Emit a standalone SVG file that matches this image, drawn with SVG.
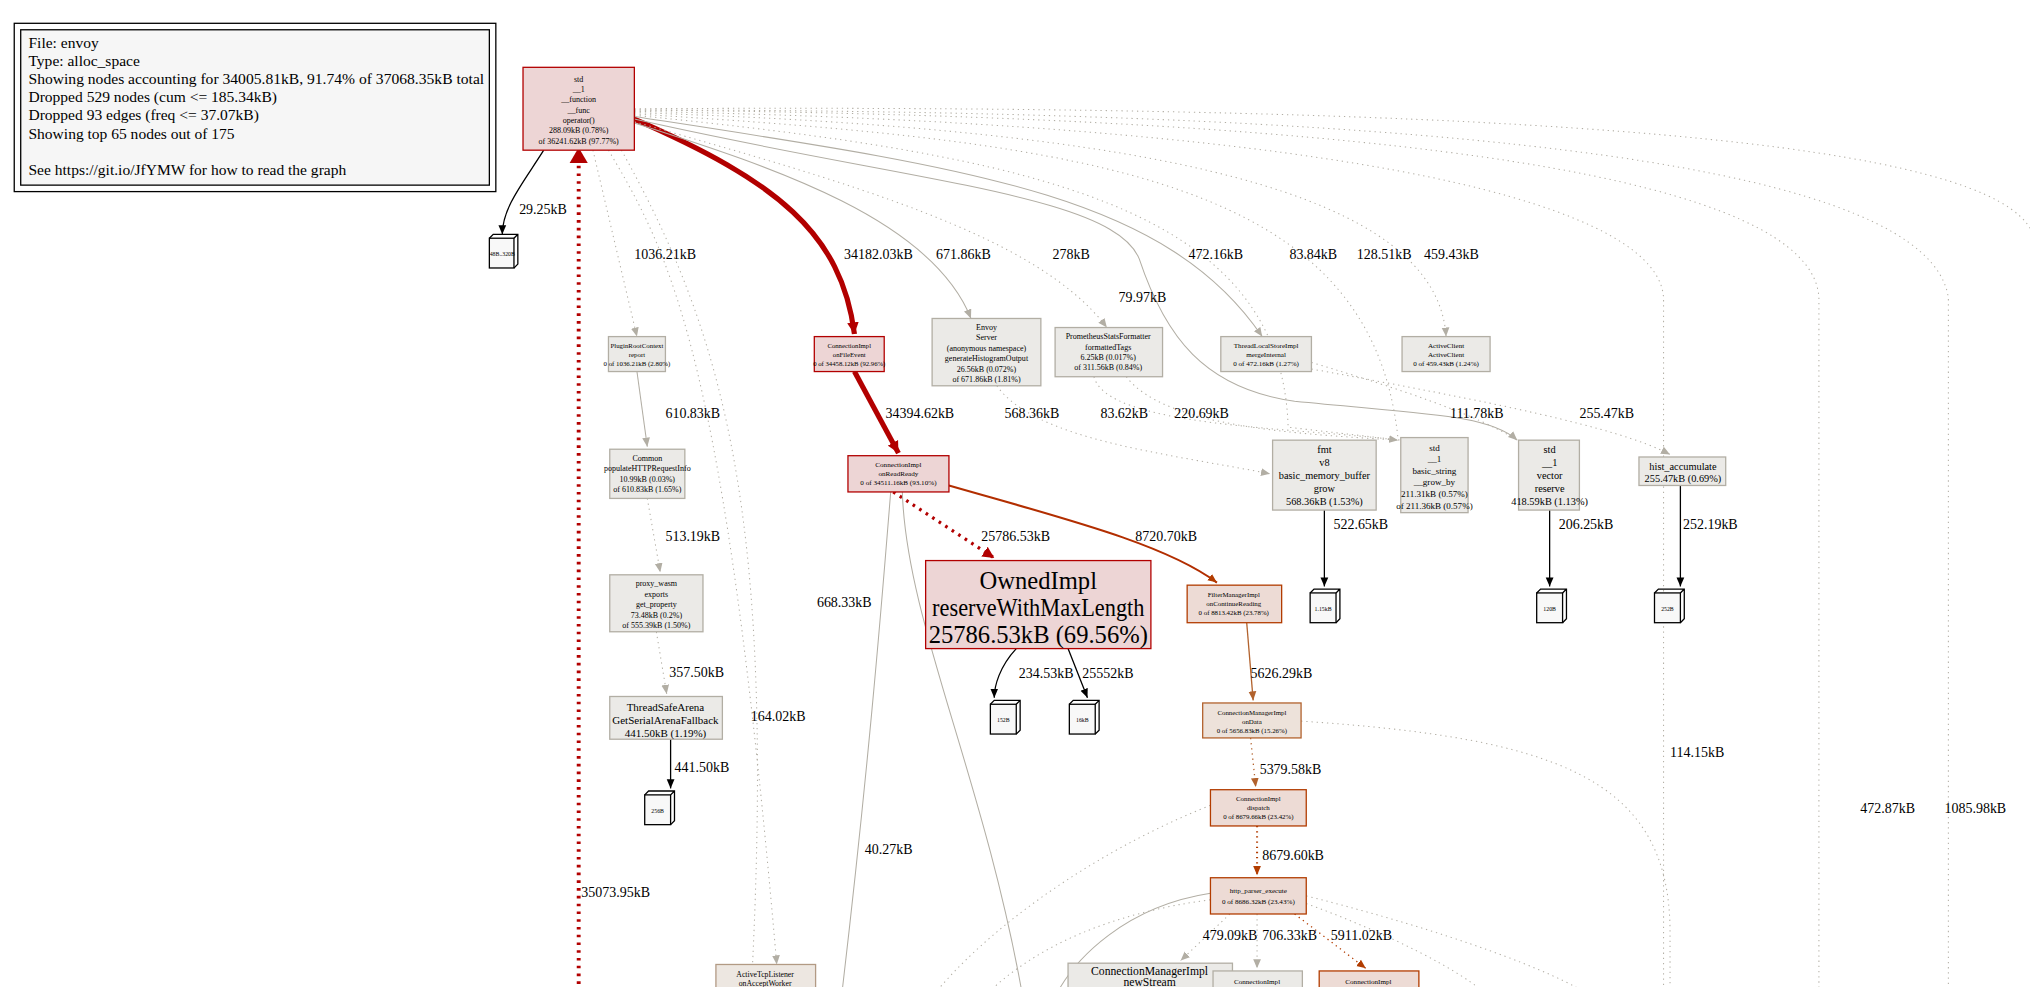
<svg xmlns="http://www.w3.org/2000/svg" width="2030" height="987" viewBox="0 0 2030 987">
<defs>
<style>
text{font-family:"Liberation Serif","Times New Roman",serif;text-anchor:middle;fill:#000}
.lg{text-anchor:start;font-size:12px}
.el{font-size:10.8px;text-anchor:start}
.n text{font-size:6.2px}
.red rect{fill:#edd5d5;stroke:#b20000;stroke-width:1}
.org rect{fill:#eddbd5;stroke:#b23c00;stroke-width:1}
.org2 rect{fill:#ede2da;stroke:#b2622d;stroke-width:1}
.gry rect{fill:#ebeae7;stroke:#b2aea4;stroke-width:1}
.gry2 rect{fill:#ede7e1;stroke:#b29a84;stroke-width:1}
.box rect{fill:#f8f8f8;stroke:#000;stroke-width:1}
.box path{fill:none;stroke:#000;stroke-width:1}
.e{fill:none}
.g{stroke:#b2aea4;stroke-width:0.8}
.gd{stroke:#b2aea4;stroke-width:0.8;stroke-dasharray:1,3}
.k{stroke:#000;stroke-width:1}
</style>
<marker id="ak" markerWidth="8" markerHeight="8" refX="7" refY="4" orient="auto" markerUnits="userSpaceOnUse"><path d="M0,1 L7,4 L0,7z" fill="#000"/></marker>
<marker id="ag" markerWidth="8" markerHeight="8" refX="7" refY="4" orient="auto" markerUnits="userSpaceOnUse"><path d="M0,1 L7,4 L0,7z" fill="#b2aea4"/></marker>
<marker id="ar" markerWidth="10" markerHeight="10" refX="9" refY="5" orient="auto" markerUnits="userSpaceOnUse"><path d="M0,0.5 L9,5 L0,9.5z" fill="#b20000"/></marker>
<marker id="ao" markerWidth="8" markerHeight="8" refX="7" refY="4" orient="auto" markerUnits="userSpaceOnUse"><path d="M0,1 L7,4 L0,7z" fill="#b23c00"/></marker>
<marker id="ao2" markerWidth="8" markerHeight="8" refX="7" refY="4" orient="auto" markerUnits="userSpaceOnUse"><path d="M0,1 L7,4 L0,7z" fill="#b2622d"/></marker>
</defs>
<rect width="2030" height="987" fill="#fff"/>
<g transform="scale(1.2946)">
<g id="legend">
<rect x="11" y="18" width="372" height="130" fill="#fff" stroke="#000"/>
<rect x="16" y="23" width="362" height="120" fill="#f6f6f6" stroke="#000"/>
<text class="lg" x="22" y="37">File: envoy</text>
<text class="lg" x="22" y="51">Type: alloc_space</text>
<text class="lg" x="22" y="65" textLength="352" lengthAdjust="spacingAndGlyphs">Showing nodes accounting for 34005.81kB, 91.74% of 37068.35kB total</text>
<text class="lg" x="22" y="79">Dropped 529 nodes (cum &lt;= 185.34kB)</text>
<text class="lg" x="22" y="93">Dropped 93 edges (freq &lt;= 37.07kB)</text>
<text class="lg" x="22" y="107">Showing top 65 nodes out of 175</text>
<text class="lg" x="22" y="135">See https://git.io/JfYMW for how to read the graph</text>
</g>
<g id="edges" class="e">
<path class="k" d="M420,116 C405,140 388,160 388,181" marker-end="url(#ak)"/>
<path d="M447,760 L447,124" stroke="#b20000" stroke-width="3" stroke-dasharray="2,4"/>
<path d="M440,126 L447,114 L454,126z" fill="#b20000"/>
<path class="gd" d="M458,116 L492,260" marker-end="url(#ag)"/>
<path class="gd" d="M470,116 C520,200 560,280 600,745" marker-end="url(#ag)"/>
<path class="gd" d="M480,116 C560,260 600,400 580,770"/>
<path d="M490,92 C600,140 650,180 660,258" stroke="#b20000" stroke-width="4" marker-end="url(#ar)"/>
<path class="g" d="M490,95 C600,130 720,170 750,246" marker-end="url(#ag)"/>
<path class="gd" d="M490,94 C650,140 800,180 855,253" marker-end="url(#ag)"/>
<path class="g" d="M490,92 C700,140 860,150 880,200 C900,260 930,300 1000,310 C1100,320 1150,320 1172,340" marker-end="url(#ag)"/>
<path class="g" d="M490,90 C750,130 900,150 975,260" marker-end="url(#ag)"/>
<path class="gd" d="M490,89 C800,120 990,160 995,330 L1082,340" />
<path class="gd" d="M490,88 C850,110 1060,140 1080,340" />
<path class="gd" d="M490,87 C900,100 1110,150 1117,260" marker-end="url(#ag)"/>
<path class="gd" d="M490,86 C1000,95 1280,150 1285,230 L1285,770"/>
<path class="gd" d="M490,85 C1100,90 1400,140 1405,230 L1405,770"/>
<path class="gd" d="M490,85 C1150,85 1490,130 1505,230 L1505,770"/>
<path class="gd" d="M490,84 C1200,80 1540,110 1570,180"/>
<path class="g" d="M492,287 L500,345" marker-end="url(#ag)"/>
<path class="gd" d="M500,385 L510,442" marker-end="url(#ag)"/>
<path class="gd" d="M507,488 L515,536" marker-end="url(#ag)"/>
<path class="k" d="M518,571 L518,609" marker-end="url(#ak)"/>
<path d="M660,287 L694,350" stroke="#b20000" stroke-width="4" marker-end="url(#ar)"/>
<path d="M690,380 L768,431" stroke="#b20000" stroke-width="2.5" stroke-dasharray="2,4" marker-end="url(#ar)"/>
<path d="M733,375 C820,400 900,420 940,450" stroke="#b22e00" stroke-width="1.6" marker-end="url(#ao)"/>
<path class="g" d="M688,380 C680,480 670,600 650,770"/>
<path class="g" d="M697,380 C700,480 760,600 790,770"/>
<path class="k" d="M785,501 C772,515 768,530 768,539" marker-end="url(#ak)"/>
<path class="k" d="M825,501 L840,539" marker-end="url(#ak)"/>
<path d="M963,481 L968,541" stroke="#b2622d" stroke-width="1" marker-end="url(#ao2)"/>
<path d="M966,570 L970,608" stroke="#b2622d" stroke-width="1" stroke-dasharray="1,3" marker-end="url(#ao2)"/>
<path d="M971,638 L971,676" stroke="#b23c00" stroke-width="1.6" stroke-dasharray="1,3" marker-end="url(#ao)"/>
<path class="gd" d="M1005,557 C1200,570 1290,600 1290,720 L1290,770"/>
<path class="gd" d="M935,622 C840,660 760,720 720,770"/>
<path class="g" d="M935,690 C870,700 830,740 815,770"/>
<path class="gd" d="M935,695 C860,705 800,730 760,770"/>
<path class="gd" d="M950,706 L912,742" marker-end="url(#ag)"/>
<path class="gd" d="M971,706 L971,748" marker-end="url(#ag)"/>
<path d="M1000,706 L1055,748" stroke="#b23c00" stroke-width="1" stroke-dasharray="1,3" marker-end="url(#ao)"/>
<path class="gd" d="M1009,698 C1070,720 1130,750 1150,770"/>
<path class="gd" d="M1009,692 C1120,720 1200,750 1230,770"/>
<path class="gd" d="M770,298 C800,340 900,350 981,366" marker-end="url(#ag)"/>
<path class="gd" d="M845,291 C855,330 1000,330 1080,340" marker-end="url(#ag)"/>
<path class="gd" d="M870,291 C900,330 1000,335 1080,340"/>
<path class="gd" d="M1013,280 C1080,300 1140,320 1172,340"/>
<path class="gd" d="M1013,285 C1150,310 1250,330 1290,351" marker-end="url(#ag)"/>
<path class="k" d="M1023,394 L1023,453" marker-end="url(#ak)"/>
<path class="k" d="M1197,394 L1197,453" marker-end="url(#ak)"/>
<path class="k" d="M1298,375 L1298,453" marker-end="url(#ak)"/>
</g>
<g id="edge-labels">
<text class="el" x="401" y="165">29.25kB</text>
<text class="el" x="490" y="200">1036.21kB</text>
<text class="el" x="652" y="200">34182.03kB</text>
<text class="el" x="723" y="200">671.86kB</text>
<text class="el" x="813" y="200">278kB</text>
<text class="el" x="918" y="200">472.16kB</text>
<text class="el" x="996" y="200">83.84kB</text>
<text class="el" x="1048" y="200">128.51kB</text>
<text class="el" x="1100" y="200">459.43kB</text>
<text class="el" x="864" y="233">79.97kB</text>
<text class="el" x="514" y="323">610.83kB</text>
<text class="el" x="684" y="323">34394.62kB</text>
<text class="el" x="776" y="323">568.36kB</text>
<text class="el" x="850" y="323">83.62kB</text>
<text class="el" x="907" y="323">220.69kB</text>
<text class="el" x="1120" y="323">111.78kB</text>
<text class="el" x="1220" y="323">255.47kB</text>
<text class="el" x="514" y="418">513.19kB</text>
<text class="el" x="758" y="418">25786.53kB</text>
<text class="el" x="877" y="418">8720.70kB</text>
<text class="el" x="1030" y="409">522.65kB</text>
<text class="el" x="1204" y="409">206.25kB</text>
<text class="el" x="1300" y="409">252.19kB</text>
<text class="el" x="631" y="469">668.33kB</text>
<text class="el" x="517" y="523">357.50kB</text>
<text class="el" x="787" y="524">234.53kB</text>
<text class="el" x="836" y="524">25552kB</text>
<text class="el" x="966" y="524">5626.29kB</text>
<text class="el" x="580" y="557">164.02kB</text>
<text class="el" x="1290" y="585">114.15kB</text>
<text class="el" x="521" y="596">441.50kB</text>
<text class="el" x="973" y="598">5379.58kB</text>
<text class="el" x="1437" y="628">472.87kB</text>
<text class="el" x="1502" y="628">1085.98kB</text>
<text class="el" x="668" y="660">40.27kB</text>
<text class="el" x="975" y="664">8679.60kB</text>
<text class="el" x="449" y="693">35073.95kB</text>
<text class="el" x="929" y="726">479.09kB</text>
<text class="el" x="975" y="726">706.33kB</text>
<text class="el" x="1028" y="726">5911.02kB</text>
</g>
<g id="n-root" class="n red"><rect x="404" y="52" width="86" height="64"/>
<text x="447" y="63">std</text><text x="447" y="71">__1</text><text x="447" y="79">__function</text><text x="447" y="87">__func</text><text x="447" y="95">operator()</text><text x="447" y="103">288.09kB (0.78%)</text><text x="447" y="111">of 36241.62kB (97.77%)</text></g>
<g id="n-48b" class="n box"><rect x="378" y="184" width="19" height="23"/><path d="M378,184 L381,181 L400,181 L400,204 L397,207 M397,184 L400,181"/><text x="388" y="198" style="font-size:4.5px">48B..320B</text></g>
<g id="n-plugin" class="n gry"><rect x="470" y="260" width="44" height="27"/>
<text x="492" y="269" style="font-size:5.3px">PluginRootContext</text><text x="492" y="276" style="font-size:5.3px">report</text><text x="492" y="283" style="font-size:5.3px">0 of 1036.21kB (2.80%)</text></g>
<g id="n-common" class="n gry"><rect x="471" y="347" width="58" height="38"/>
<text x="500" y="356">Common</text><text x="500" y="364">populateHTTPRequestInfo</text><text x="500" y="372">10.99kB (0.03%)</text><text x="500" y="380">of 610.83kB (1.65%)</text></g>
<g id="n-proxy" class="n gry"><rect x="471" y="444" width="72" height="44"/>
<text x="507" y="453">proxy_wasm</text><text x="507" y="461">exports</text><text x="507" y="469">get_property</text><text x="507" y="477">73.48kB (0.2%)</text><text x="507" y="485">of 555.39kB (1.50%)</text></g>
<g id="n-arena" class="n gry"><rect x="471" y="538" width="87" height="33"/>
<text x="514" y="549" style="font-size:8.5px">ThreadSafeArena</text><text x="514" y="559" style="font-size:8.5px">GetSerialArenaFallback</text><text x="514" y="569" style="font-size:8.5px">441.50kB (1.19%)</text></g>
<g id="n-256b" class="n box"><rect x="498" y="614" width="20" height="23"/><path d="M498,614 L501,611 L521,611 L521,634 L518,637 M518,614 L521,611"/><text x="508" y="628" style="font-size:4.5px">256B</text></g>
<g id="n-onfile" class="n red"><rect x="629" y="260" width="54" height="27"/>
<text x="656" y="269" style="font-size:5.2px">ConnectionImpl</text><text x="656" y="276" style="font-size:5.2px">onFileEvent</text><text x="656" y="283" style="font-size:5.2px">0 of 34458.12kB (92.96%)</text></g>
<g id="n-onread" class="n red"><rect x="655" y="352" width="78" height="28"/>
<text x="694" y="361" style="font-size:5.5px">ConnectionImpl</text><text x="694" y="368" style="font-size:5.5px">onReadReady</text><text x="694" y="375" style="font-size:5.5px">0 of 34511.16kB (93.10%)</text></g>
<g id="n-owned" class="n red"><rect x="715" y="433" width="174" height="68"/>
<text x="802" y="455" style="font-size:19px">OwnedImpl</text><text x="802" y="476" style="font-size:19px" textLength="164" lengthAdjust="spacingAndGlyphs">reserveWithMaxLength</text><text x="802" y="497" style="font-size:19px">25786.53kB (69.56%)</text></g>
<g id="n-152b" class="n box"><rect x="765" y="544" width="20" height="23"/><path d="M765,544 L768,541 L788,541 L788,564 L785,567 M785,544 L788,541"/><text x="775" y="558" style="font-size:4.5px">152B</text></g>
<g id="n-16kb" class="n box"><rect x="826" y="544" width="20" height="23"/><path d="M826,544 L829,541 L849,541 L849,564 L846,567 M846,544 L849,541"/><text x="836" y="558" style="font-size:4.5px">16kB</text></g>
<g id="n-filter" class="n org"><rect x="917" y="452" width="73" height="29"/>
<text x="953" y="461" style="font-size:5.3px">FilterManagerImpl</text><text x="953" y="468" style="font-size:5.3px">onContinueReading</text><text x="953" y="475" style="font-size:5.3px">0 of 8813.42kB (23.78%)</text></g>
<g id="n-ondata" class="n org2"><rect x="929" y="543" width="76" height="27"/>
<text x="967" y="552" style="font-size:5.3px">ConnectionManagerImpl</text><text x="967" y="559" style="font-size:5.3px">onData</text><text x="967" y="566" style="font-size:5.3px">0 of 5656.83kB (15.26%)</text></g>
<g id="n-dispatch" class="n org"><rect x="935" y="610" width="74" height="28"/>
<text x="972" y="619" style="font-size:5.3px">ConnectionImpl</text><text x="972" y="626" style="font-size:5.3px">dispatch</text><text x="972" y="633" style="font-size:5.3px">0 of 8679.66kB (23.42%)</text></g>
<g id="n-http" class="n org"><rect x="935" y="678" width="74" height="28"/>
<text x="972" y="690" style="font-size:5.5px">http_parser_execute</text><text x="972" y="698" style="font-size:5.5px">0 of 8686.32kB (23.43%)</text></g>
<g id="n-newstream" class="n gry"><rect x="825" y="744" width="127" height="30"/>
<text x="888" y="753" style="font-size:9px">ConnectionManagerImpl</text><text x="888" y="761.5" style="font-size:9px">newStream</text></g>
<g id="n-conn-g" class="n gry"><rect x="937" y="750" width="69" height="24"/><text x="971" y="760" style="font-size:5.5px">ConnectionImpl</text></g>
<g id="n-conn-o" class="n org"><rect x="1019" y="750" width="77" height="24"/><text x="1057" y="760" style="font-size:5.5px">ConnectionImpl</text></g>
<g id="n-tcp" class="n gry2"><rect x="553" y="745" width="77" height="29"/><text x="591" y="755" style="font-size:6px">ActiveTcpListener</text><text x="591" y="762" style="font-size:6px">onAcceptWorker</text></g>
<g id="n-envoy" class="n gry"><rect x="720" y="246" width="84" height="52"/>
<text x="762" y="255">Envoy</text><text x="762" y="263">Server</text><text x="762" y="271">(anonymous namespace)</text><text x="762" y="279">generateHistogramOutput</text><text x="762" y="287">26.56kB (0.072%)</text><text x="762" y="295">of 671.86kB (1.81%)</text></g>
<g id="n-prom" class="n gry"><rect x="815" y="253" width="83" height="38"/>
<text x="856" y="262">PrometheusStatsFormatter</text><text x="856" y="270">formattedTags</text><text x="856" y="278">6.25kB (0.017%)</text><text x="856" y="286">of 311.56kB (0.84%)</text></g>
<g id="n-tls" class="n gry"><rect x="943" y="260" width="70" height="27"/>
<text x="978" y="269" style="font-size:5.5px">ThreadLocalStoreImpl</text><text x="978" y="276" style="font-size:5.5px">mergeInternal</text><text x="978" y="283" style="font-size:5.5px">0 of 472.16kB (1.27%)</text></g>
<g id="n-activeclient" class="n gry"><rect x="1083" y="260" width="68" height="27"/>
<text x="1117" y="269" style="font-size:5.5px">ActiveClient</text><text x="1117" y="276" style="font-size:5.5px">ActiveClient</text><text x="1117" y="283" style="font-size:5.5px">0 of 459.43kB (1.24%)</text></g>
<g id="n-fmt" class="n gry"><rect x="983" y="340" width="80" height="54"/>
<text x="1023" y="350" style="font-size:8px">fmt</text><text x="1023" y="360" style="font-size:8px">v8</text><text x="1023" y="370" style="font-size:8px">basic_memory_buffer</text><text x="1023" y="380" style="font-size:8px">grow</text><text x="1023" y="390" style="font-size:8px">568.36kB (1.53%)</text></g>
<g id="n-string" class="n gry"><rect x="1082" y="338" width="52" height="58"/>
<text x="1108" y="348" style="font-size:7px">std</text><text x="1108" y="357" style="font-size:7px">__1</text><text x="1108" y="366" style="font-size:7px">basic_string</text><text x="1108" y="375" style="font-size:7px">__grow_by</text><text x="1108" y="384" style="font-size:7px">211.31kB (0.57%)</text><text x="1108" y="393" style="font-size:7px">of 211.36kB (0.57%)</text></g>
<g id="n-vector" class="n gry"><rect x="1173" y="340" width="47" height="54"/>
<text x="1197" y="350" style="font-size:8px">std</text><text x="1197" y="360" style="font-size:8px">__1</text><text x="1197" y="370" style="font-size:8px">vector</text><text x="1197" y="380" style="font-size:8px">reserve</text><text x="1197" y="390" style="font-size:8px">418.59kB (1.13%)</text></g>
<g id="n-hist" class="n gry"><rect x="1266" y="353" width="67" height="22"/>
<text x="1300" y="363" style="font-size:8px">hist_accumulate</text><text x="1300" y="372" style="font-size:8px">255.47kB (0.69%)</text></g>
<g id="n-115kb" class="n box"><rect x="1012" y="458" width="20" height="23"/><path d="M1012,458 L1015,455 L1035,455 L1035,478 L1032,481 M1032,458 L1035,455"/><text x="1022" y="472" style="font-size:4.5px">1.15kB</text></g>
<g id="n-120b" class="n box"><rect x="1187" y="458" width="20" height="23"/><path d="M1187,458 L1190,455 L1210,455 L1210,478 L1207,481 M1207,458 L1210,455"/><text x="1197" y="472" style="font-size:4.5px">120B</text></g>
<g id="n-252b" class="n box"><rect x="1278" y="458" width="20" height="23"/><path d="M1278,458 L1281,455 L1301,455 L1301,478 L1298,481 M1298,458 L1301,455"/><text x="1288" y="472" style="font-size:4.5px">252B</text></g>
</g>
</svg>
